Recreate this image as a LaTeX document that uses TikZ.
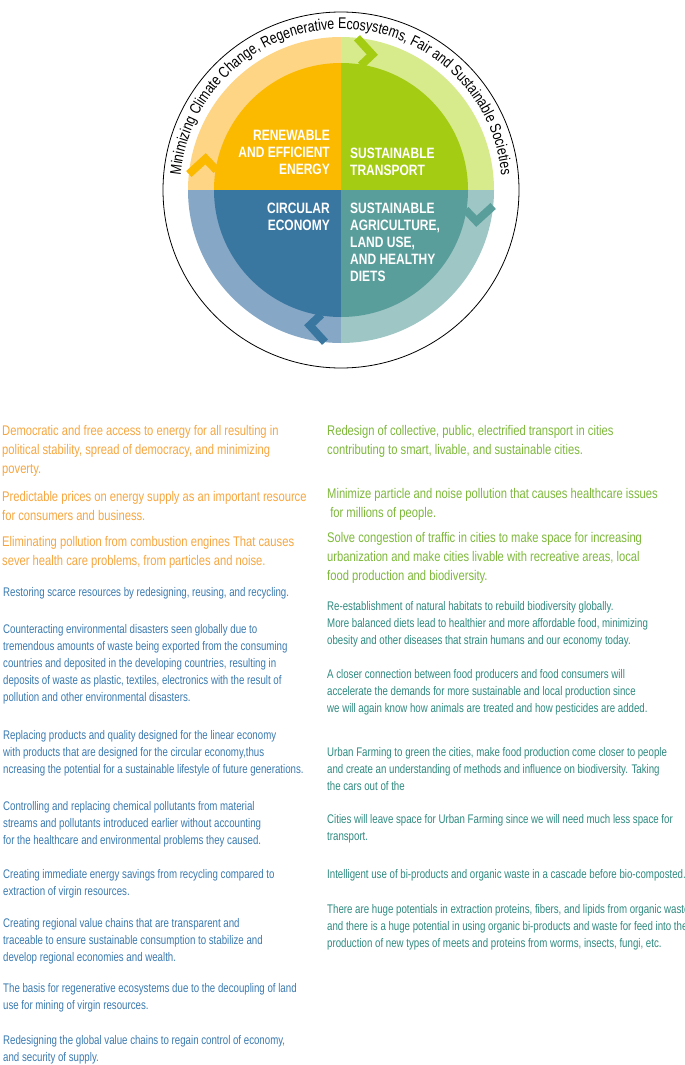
\documentclass[tikz,border=0pt]{standalone}
\usepackage{fontspec}
\setmainfont{Liberation Sans}[FakeStretch=0.8]
\newfontfamily\smallfont{Liberation Sans}[FakeStretch=0.775]
\newfontfamily\labfont{Liberation Sans}[FakeStretch=0.8]
\newfontfamily\arcfont{Liberation Sans}[FakeStretch=0.8]
\usetikzlibrary{decorations.text,calc}
\definecolor{orD}{HTML}{FBB900}\definecolor{orL}{HTML}{FDD585}
\definecolor{grD}{HTML}{A3CC12}\definecolor{grL}{HTML}{D7EB8C}
\definecolor{blD}{HTML}{3A77A0}\definecolor{blL}{HTML}{86A8C6}
\definecolor{tlD}{HTML}{5A9E9B}\definecolor{tlL}{HTML}{9EC6C5}
\definecolor{orT}{HTML}{F6A640}\definecolor{grT}{HTML}{7DB83A}
\definecolor{blT}{HTML}{3A7AB0}\definecolor{tlT}{HTML}{2E8A80}
\tikzset{
 big/.style={inner sep=0pt,anchor=base west,align=left,font=\fontsize{14}{19}\selectfont},
 small/.style={inner sep=0pt,anchor=base west,align=left,font=\smallfont\fontsize{12.5}{17}\selectfont},
 lab/.style={inner sep=0pt,text=white,font=\labfont\bfseries\fontsize{15}{17}\selectfont},
 chev/.style={line width=8pt,line join=miter}
}
\begin{document}
\begin{tikzpicture}[x=1pt,y=1pt]
\useasboundingbox (0,0) rectangle (685,-1065);
\coordinate (c) at (341,-190);
% outer ring
\draw[line width=0.8pt] (c) circle[radius=178];
% light ring quadrants
\fill[grL] (c) -- +(0:153) arc[start angle=0,end angle=90,radius=153] -- cycle;
\fill[orL] (c) -- +(90:153) arc[start angle=90,end angle=180,radius=153] -- cycle;
\fill[blL] (c) -- +(180:153) arc[start angle=180,end angle=270,radius=153] -- cycle;
\fill[tlL] (c) -- +(270:153) arc[start angle=270,end angle=360,radius=153] -- cycle;
% chevrons
\draw[chev,grD] ($(c)+(84:153)$) -- ($(c)+(77:139)$) -- ($(c)+(81:126)$);
\draw[chev,tlD] ($(c)+(-6:153)$) -- ($(c)+(-13:139)$) -- ($(c)+(-9:126)$);
\draw[chev,blD] ($(c)+(-96:153)$) -- ($(c)+(-103:139)$) -- ($(c)+(-99:126)$);
\draw[chev,orD] ($(c)+(174:153)$) -- ($(c)+(167:139)$) -- ($(c)+(171:126)$);
% inner quadrants
\fill[grD] (c) -- +(0:127) arc[start angle=0,end angle=90,radius=127] -- cycle;
\fill[orD] (c) -- +(90:127) arc[start angle=90,end angle=180,radius=127] -- cycle;
\fill[blD] (c) -- +(180:127) arc[start angle=180,end angle=270,radius=127] -- cycle;
\fill[tlD] (c) -- +(270:127) arc[start angle=270,end angle=360,radius=127] -- cycle;
% arc text
\path[decorate,decoration={text along path,text align=center,
 text={|\arcfont\fontsize{15.5}{15.5}\selectfont|Minimizing Climate Change{,} Regenerative Ecosystems{,} Fair and Sustainable Societies}}]
 ($(c)+(176:161)$) arc[start angle=176,end angle=4,radius=161];
% labels
\node[lab,anchor=north east,align=right] (ren) at (330,-130) {RENEWABLE\\AND EFFICIENT\\ENERGY};
\node[lab,anchor=north west,align=left] (tra) at (350,-148) {SUSTAINABLE\\TRANSPORT};
\node[lab,anchor=north east,align=right] (cir) at (330,-203) {CIRCULAR\\ECONOMY};
\node[lab,anchor=north west,align=left] (agr) at (350,-203) {SUSTAINABLE\\AGRICULTURE,\\LAND USE,\\AND HEALTHY\\DIETS};
% orange text
\node[big,text=orT] (o1) at (2,-473) {Democratic and free access to energy for all resulting in\\political stability, spread of democracy, and minimizing\\poverty.};
\node[big,text=orT] (o2) at (2,-520) {Predictable prices on energy supply as an important resource\\for consumers and business.};
\node[big,text=orT] (o3) at (2,-565) {Eliminating pollution from combustion engines That causes\\sever health care problems, from particles and noise.};
% blue text
\node[small,text=blT] (b1) at (3,-596) {Restoring scarce resources by redesigning, reusing, and recycling.};
\node[small,text=blT] (b2) at (3,-701) {Counteracting environmental disasters seen globally due to\\tremendous amounts of waste being exported from the consuming\\countries and deposited in the developing countries, resulting in\\deposits of waste as plastic, textiles, electronics with the result of\\pollution and other environmental disasters.};
\node[small,text=blT] (b3) at (3,-773) {Replacing products and quality designed for the linear economy\\with products that are designed for the circular economy,thus\\ncreasing the potential for a sustainable lifestyle of future generations.};
\node[small,text=blT] (b4) at (3,-844) {Controlling and replacing chemical pollutants from material\\streams and pollutants introduced earlier without accounting\\for the healthcare and environmental problems they caused.};
\node[small,text=blT] (b5) at (3,-895) {Creating immediate energy savings from recycling compared to\\extraction of virgin resources.};
\node[small,text=blT] (b6) at (3,-961) {Creating regional value chains that are transparent and\\traceable to ensure sustainable consumption to stabilize and\\develop regional economies and wealth.};
\node[small,text=blT] (b7) at (3,-1009) {The basis for regenerative ecosystems due to the decoupling of land\\use for mining of virgin resources.};
\node[small,text=blT] (b8) at (3,-1061) {Redesigning the global value chains to regain control of economy,\\and security of supply.};
% green text
\node[big,text=grT] (g1) at (327,-454) {Redesign of collective, public, electrified transport in cities\\contributing to smart, livable, and sustainable cities.};
\node[big,text=grT] (g2) at (327,-517) {Minimize particle and noise pollution that causes healthcare issues\\\ for millions of people.};
\node[big,text=grT] (g3) at (327,-580) {Solve congestion of traffic in cities to make space for increasing\\urbanization and make cities livable with recreative areas, local\\food production and biodiversity.};
% teal text
\node[small,text=tlT] (t1) at (327,-644) {Re-establishment of natural habitats to rebuild biodiversity globally.\\More balanced diets lead to healthier and more affordable food, minimizing\\obesity and other diseases that strain humans and our economy today.};
\node[small,text=tlT] (t2) at (327,-712) {A closer connection between food producers and food consumers will\\accelerate the demands for more sustainable and local production since\\we will again know how animals are treated and how pesticides are added.};
\node[small,text=tlT] (t3) at (327,-790) {Urban Farming to green the cities, make food production come closer to people\\and create an understanding of methods and influence on biodiversity. Taking\\the cars out of the};
\node[small,text=tlT] (t4) at (327,-840) {Cities will leave space for Urban Farming since we will need much less space for\\transport.};
\node[small,text=tlT] (t5) at (327,-878) {Intelligent use of bi-products and organic waste in a cascade before bio-composted.};
\node[small,text=tlT] (t6) at (327,-947) {There are huge potentials in extraction proteins, fibers, and lipids from organic waste\\and there is a huge potential in using organic bi-products and waste for feed into the\\production of new types of meets and proteins from worms, insects, fungi, etc.};
\end{tikzpicture}
\end{document}
